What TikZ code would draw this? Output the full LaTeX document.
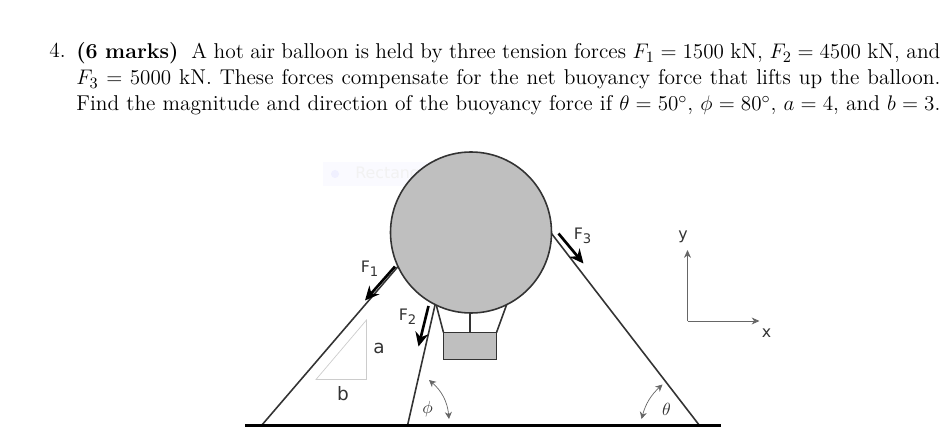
\documentclass[tikz,border=0pt]{standalone}
\usepackage{fontspec}
\newfontfamily\labelfont{DejaVu Sans}
\usetikzlibrary{arrows.meta}
\tikzset{>=stealth}
\colorlet{background}{white}
\colorlet{penColor}{black!80}
\colorlet{fillColor}{black!25}
\newcommand{\forcelabel}[1]{F\raisebox{-.45ex}{\fontsize{7.5}{9}\selectfont #1}}
\tikzset{
	questiontext/.style={font=\fontsize{12.2}{14.8}\selectfont,inner sep=0pt},
	rope/.style={penColor,line width=.9pt},
	forcearrow/.style={-{Stealth[length=8pt,width=7.5pt]},black,line width=1.5pt},
	thinarrow/.style={{Stealth[length=4pt,width=4pt]}-{Stealth[length=4pt,width=4pt]},black!60,line width=.4pt},
	axisarrow/.style={-{Stealth[length=4.5pt,width=4pt]},black!60,line width=.5pt},
	sanslabel/.style={font=\labelfont\fontsize{9}{10}\selectfont,penColor,inner sep=0pt},
	biglabel/.style={font=\labelfont\fontsize{10.5}{12}\selectfont,penColor,inner sep=0pt}
}
\begin{document}
\begin{tikzpicture}
	\useasboundingbox (0,0) rectangle (19.04,8.94);
	% question text
	\node [questiontext,anchor=north west] (number) at (0.98,8.09) {4.};
	\node [questiontext,anchor=north west,text width=17.28cm,align=justify] (question) at (1.52,8.09) {
		\textbf{(6 marks)}\ \ A hot air balloon is held by three tension forces $F_1=1500$ kN, $F_2=4500$ kN, and\linebreak
		$F_3=5000$ kN. These forces compensate for the net buoyancy force that lifts up the balloon.\linebreak
		Find the magnitude and direction of the buoyancy force if $\theta=50^\circ$, $\phi=80^\circ$, $a=4$, and $b=3$.\linebreak};
	% faint snip tool box behind the balloon
	\fill [blue!2] (6.46,5.22) rectangle (9.4,5.70);
	\fill [blue!6] (6.7,5.46) circle [radius=.08];
	\node [sanslabel,anchor=west,black!5] (snip) at (7.1,5.46) {Rectangular Snip};
	% ropes
	\coordinate (groundL) at (4.9,.43);
	\coordinate (groundR) at (14.41,.43);
	\coordinate (rope1) at (5.23,.43);
	\coordinate (rope2) at (8.15,.43);
	\coordinate (rope3) at (13.99,.43);
	\coordinate (top1) at (7.96,3.61);
	\coordinate (top2) at (8.70,2.84);
	\coordinate (top3) at (11.03,4.27);
	\draw [rope] (rope1) -- (top1);
	\draw [rope] (rope2) -- (top2);
	\draw [rope] (rope3) -- (top3);
	\draw [black,line width=1.3pt] (groundL) -- (groundR);
	% balloon
	\draw [rope,fill=fillColor] (9.42,4.29) circle [radius=1.61];
	\draw [rope,fill=fillColor] (8.87,1.75) rectangle (9.93,2.29);
	\draw [rope] (8.73,2.82) -- (8.87,2.29);
	\draw [rope] (10.13,2.84) -- (9.93,2.29);
	\draw [rope] (9.40,2.68) -- (9.40,2.29);
	% forces
	\draw [forcearrow] (7.90,3.61) -- (7.30,2.93);
	\draw [forcearrow] (8.57,2.82) -- (8.37,2.01);
	\draw [forcearrow] (11.17,4.27) -- (11.67,3.67);
	\node [sanslabel] (labelF1) at (7.39,3.56) {\forcelabel{1}};
	\node [sanslabel] (labelF2) at (8.15,2.60) {\forcelabel{2}};
	\node [sanslabel] (labelF3) at (11.65,4.22) {\forcelabel{3}};
	% slope triangle
	\draw [black!20] (7.33,2.54) -- (7.33,1.35) -- (6.32,1.35) -- cycle;
	\node [biglabel] (labelA) at (7.58,1.98) {a};
	\node [biglabel] (labelB) at (6.86,1.06) {b};
	% angles
	\draw [thinarrow] (8.58,1.34) to [bend left=22] (8.98,.56);
	\draw [thinarrow] (13.25,1.25) to [bend right=16] (12.83,.56);
	\node [penColor,inner sep=0pt] (labelPhi) at (8.55,.76) {$\phi$};
	\node [penColor,inner sep=0pt] (labelTheta) at (13.33,.76) {$\theta$};
	% axes
	\coordinate (origin) at (13.75,2.52);
	\coordinate (endY) at (13.75,3.94);
	\coordinate (endX) at (15.19,2.52);
	\draw [axisarrow] (origin) -- (endY);
	\draw [axisarrow] (origin) -- (endX);
	\node [sanslabel] (labelY) at (13.66,4.2) {y};
	\node [sanslabel] (labelX) at (15.33,2.28) {x};
\end{tikzpicture}
\end{document}
